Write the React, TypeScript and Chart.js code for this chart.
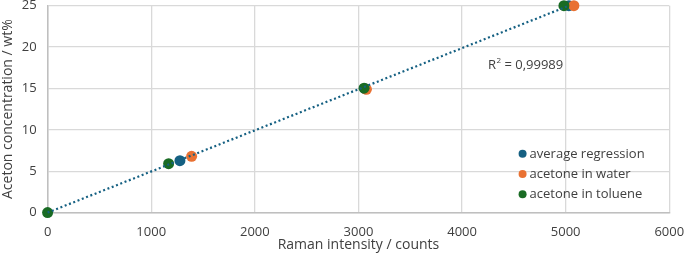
import React, { useEffect, useRef } from "react";
import { Chart, registerables } from "chart.js";
Chart.register(...registerables);

const seriesNames = ["average regression", "acetone in water", "acetone in toluene"];
const seriesColors = ["#156082", "#E97132", "#196B24"];
const averageX = [1277, 3065, 5031];
const averageY = [6.28, 14.97, 25];
const waterX = [1390, 3077, 5079];
const waterY = [6.8, 14.9, 25];
const tolueneX = [0, 1168, 3054, 4983];
const tolueneY = [0, 5.91, 15.03, 25];
const trendX = [0, 5031];
const trendY = [0, 25];
const xTicks = [0, 1000, 2000, 3000, 4000, 5000, 6000];
const yTicks = [0, 5, 10, 15, 20, 25];
const rSquared = "0,99989";

const FONT = "'Open Sans', 'Liberation Sans', sans-serif";

const toPts = (xs: number[], ys: number[]) => xs.map((x, i) => ({ x, y: ys[i] }));

const overlayPlugin = {
  id: "overlay",
  afterDraw(chart: any) {
    const ctx = chart.ctx;
    const xs = chart.scales.x;
    const ys = chart.scales.y;
    ctx.save();
    // R² label
    ctx.fillStyle = "#404040";
    ctx.textBaseline = "alphabetic";
    ctx.textAlign = "left";
    const rx = xs.getPixelForValue(4250);
    const ry = ys.getPixelForValue(17.3);
    ctx.font = `13px ${FONT}`;
    ctx.fillText("R", rx, ry);
    const rw = ctx.measureText("R").width;
    ctx.font = `8px ${FONT}`;
    ctx.fillText("2", rx + rw + 0.5, ry - 6);
    const sw = ctx.measureText("2").width;
    ctx.font = `13px ${FONT}`;
    ctx.fillText(" = " + rSquared, rx + rw + sw + 0.5, ry);
    // legend
    const lx = xs.getPixelForValue(4584);
    const baseY = ys.getPixelForValue(7.1);
    seriesNames.forEach((name, i) => {
      const y = baseY + i * 20.2;
      ctx.beginPath();
      ctx.fillStyle = seriesColors[i];
      ctx.arc(lx, y, 4, 0, Math.PI * 2);
      ctx.fill();
      ctx.fillStyle = "#404040";
      ctx.font = `13px ${FONT}`;
      ctx.textBaseline = "middle";
      ctx.fillText(name, lx + 7, y);
    });
    ctx.restore();
  },
};

export default function App() {
  const ref = useRef<HTMLCanvasElement | null>(null);
  useEffect(() => {
    document.body.style.margin = "0";
    const canvas = ref.current!;
    const pt = (r: number) => ({
      pointRadius: r,
      pointHoverRadius: r,
      showLine: false,
      borderWidth: 0,
      clip: false,
    });
    const chart = new Chart(canvas, {
      type: "scatter",
      data: {
        datasets: [
          {
            type: "line",
            label: "trend",
            data: toPts(trendX, trendY),
            borderColor: seriesColors[0],
            borderWidth: 2.2,
            borderDash: [2, 2.6],
            pointRadius: 0,
            fill: false,
            clip: false,
            order: 0,
          } as any,
          {
            label: seriesNames[2],
            data: toPts(tolueneX, tolueneY),
            backgroundColor: seriesColors[2],
            borderColor: seriesColors[2],
            ...pt(5.5),
            order: 1,
          },
          {
            label: seriesNames[1],
            data: toPts(waterX, waterY),
            backgroundColor: seriesColors[1],
            borderColor: seriesColors[1],
            ...pt(5.5),
            order: 2,
          },
          {
            label: seriesNames[0],
            data: toPts(averageX, averageY),
            backgroundColor: seriesColors[0],
            borderColor: seriesColors[0],
            ...pt(5.5),
            order: 3,
          },
        ],
      },
      options: {
        animation: false,
        responsive: false,
        layout: { padding: { left: 0, right: 15.7, top: 5.7, bottom: 0 } },
        plugins: { legend: { display: false }, tooltip: { enabled: false } },
        scales: {
          x: {
            type: "linear",
            min: 0,
            max: 6000,
            afterBuildTicks: (s: any) => {
              s.ticks = xTicks.map((v) => ({ value: v }));
            },
            afterFit: (s: any) => {
              s.height = 44.4;
              s.paddingLeft = 0;
              s.paddingRight = 0;
            },
            ticks: {
              callback: (v: any) => String(v),
              color: "#404040",
              font: { family: FONT, size: 13 },
              padding: 11.5,
              maxRotation: 0,
            },
            grid: { color: "#d9d9d9", lineWidth: 1.3, drawTicks: false },
            border: { color: "#bfbfbf", width: 1.5 },
            title: {
              display: true,
              text: "Raman intensity / counts",
              color: "#404040",
              font: { family: FONT, size: 14 },
              padding: { top: 2, bottom: 4 },
            },
          },
          y: {
            type: "linear",
            min: 0,
            max: 25,
            afterBuildTicks: (s: any) => {
              s.ticks = yTicks.map((v) => ({ value: v }));
            },
            afterFit: (s: any) => {
              s.width = 47.6;
              s.paddingTop = 0;
              s.paddingBottom = 0;
            },
            ticks: {
              callback: (v: any) => String(v),
              color: "#404040",
              font: { family: FONT, size: 13 },
              padding: 11,
            },
            grid: { color: "#d9d9d9", lineWidth: 1.3, drawTicks: false },
            border: { color: "#bfbfbf", width: 1.5 },
            title: {
              display: true,
              text: "Aceton concentration / wt%",
              color: "#404040",
              font: { family: FONT, size: 14 },
              padding: { top: 0, bottom: 4 },
            },
          },
        },
      },
      plugins: [overlayPlugin],
    });
    return () => chart.destroy();
  }, []);
  return <canvas ref={ref} width={685} height={257} style={{ display: "block" }} />;
}
